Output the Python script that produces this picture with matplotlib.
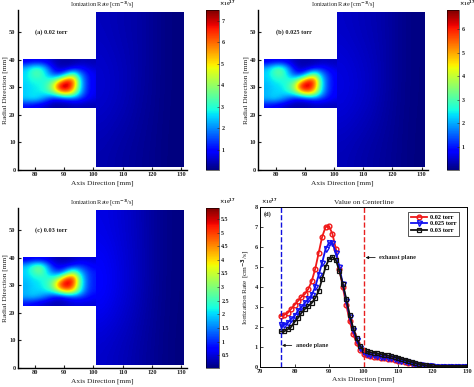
import numpy as np
import matplotlib
matplotlib.use("Agg")
import matplotlib.pyplot as plt

plt.rcParams['font.family'] = ['Liberation Serif', 'DejaVu Serif']
plt.rcParams['font.weight'] = 'bold'
plt.rcParams['mathtext.default'] = 'bf'

W, H = 474, 387
TEXT = '#222222'

# field values in 1e17 cm^-3/s, rows from y=40 down to y=22.3, columns x=76..101
channel_a = [
    [0.8, 0.9, 0.9, 0.8, 0.5, 0.3, 0.3, 0.3, 0.4, 0.4, 0.4],
    [2.4, 3.1, 3.2, 2.1, 0.9, 0.5, 0.5, 0.8, 1.0, 0.8, 0.6],
    [2.6, 3.3, 3.4, 2.6, 1.6, 1.3, 2.5, 3.8, 2.0, 1.2, 0.8],
    [2.6, 2.9, 2.9, 3.0, 3.4, 5.0, 6.8, 6.2, 2.7, 1.3, 0.8],
    [2.5, 2.7, 2.8, 3.2, 4.6, 7.4, 7.5, 6.0, 2.7, 1.3, 0.8],
    [2.5, 2.7, 2.7, 3.0, 3.6, 5.0, 5.8, 4.6, 2.4, 1.2, 0.8],
    [2.5, 2.7, 2.4, 1.7, 1.0, 1.0, 1.2, 1.5, 1.3, 0.9, 0.7],
    [1.0, 0.9, 0.7, 0.5, 0.3, 0.3, 0.3, 0.4, 0.4, 0.4, 0.4],
]
channel_b = [
    [0.7, 0.8, 0.8, 0.7, 0.4, 0.3, 0.3, 0.3, 0.4, 0.4, 0.4],
    [2.1, 2.9, 3.2, 2.0, 0.8, 0.4, 0.5, 0.8, 1.0, 0.8, 0.6],
    [2.3, 2.9, 3.2, 2.4, 1.4, 1.1, 2.3, 3.6, 2.0, 1.2, 0.8],
    [2.2, 2.5, 2.6, 2.7, 2.9, 4.4, 6.1, 5.8, 2.6, 1.3, 0.8],
    [2.1, 2.3, 2.4, 2.8, 3.8, 6.4, 6.7, 5.6, 2.6, 1.3, 0.8],
    [2.1, 2.3, 2.3, 2.5, 3.0, 4.3, 5.2, 4.4, 2.3, 1.2, 0.8],
    [2.1, 2.3, 2.0, 1.5, 0.9, 0.8, 1.0, 1.3, 1.2, 0.9, 0.7],
    [0.9, 0.8, 0.6, 0.4, 0.3, 0.3, 0.3, 0.4, 0.4, 0.4, 0.4],
]
channel_c = [
    [0.6, 0.7, 0.7, 0.6, 0.4, 0.3, 0.3, 0.4, 0.5, 0.5, 0.5],
    [1.9, 2.6, 3.0, 1.9, 0.8, 0.6, 0.7, 0.9, 1.1, 0.9, 0.7],
    [2.0, 2.5, 2.9, 2.2, 1.4, 1.1, 2.0, 3.2, 1.9, 1.2, 0.9],
    [1.9, 2.1, 2.2, 2.4, 2.5, 3.5, 5.2, 5.2, 2.6, 1.3, 0.9],
    [1.8, 2.0, 2.1, 2.4, 3.2, 5.2, 5.8, 5.0, 2.6, 1.3, 0.9],
    [1.8, 2.0, 2.0, 2.2, 2.6, 3.7, 4.6, 4.0, 2.3, 1.2, 0.9],
    [1.8, 1.9, 1.7, 1.3, 0.8, 0.6, 0.8, 1.1, 1.1, 0.9, 0.7],
    [0.8, 0.7, 0.5, 0.4, 0.3, 0.3, 0.4, 0.5, 0.5, 0.5, 0.5],
]
# plume rows y=57, 30, 1, columns x=101..131 every 5 mm
plume_a = [[0.45, 0.4, 0.35, 0.3, 0.2, 0.1, 0.06],
           [0.65, 0.55, 0.45, 0.3, 0.2, 0.1, 0.06],
           [0.35, 0.3, 0.25, 0.2, 0.15, 0.08, 0.05]]
plume_b = [[0.45, 0.4, 0.35, 0.3, 0.2, 0.1, 0.05],
           [0.7, 0.6, 0.5, 0.35, 0.2, 0.1, 0.05],
           [0.35, 0.3, 0.25, 0.2, 0.15, 0.08, 0.04]]
plume_c = [[0.55, 0.5, 0.42, 0.32, 0.2, 0.1, 0.05],
           [0.8, 0.65, 0.5, 0.35, 0.2, 0.1, 0.05],
           [0.4, 0.35, 0.3, 0.22, 0.15, 0.08, 0.04]]

# centerline values in 1e17, x = 76..130 mm
axis_mm = list(range(76, 131))
rate_002 = [2.55, 2.6, 2.7, 2.9, 3.1, 3.3, 3.5, 3.65, 3.9, 4.3, 4.9, 5.7, 6.5, 7.0, 7.05,
            6.65, 5.9, 4.9, 4.0, 3.1, 2.3, 1.65, 1.2, 0.85, 0.65, 0.58, 0.55, 0.52, 0.5, 0.47,
            0.44, 0.41, 0.38, 0.35, 0.32, 0.28, 0.25, 0.21, 0.18, 0.14, 0.11, 0.08, 0.06, 0.04, 0.03,
            0.02, 0.02, 0.01, 0.01, 0.01, 0.01, 0.01, 0.01, 0.01, 0.01]
rate_0025 = [2.1, 2.1, 2.2, 2.4, 2.55, 2.8, 3.0, 3.2, 3.4, 3.6, 4.0, 4.6, 5.2, 5.9, 6.2,
             6.2, 5.7, 5.0, 4.15, 3.3, 2.5, 1.85, 1.35, 0.95, 0.72, 0.65, 0.62, 0.58, 0.55, 0.52,
             0.49, 0.46, 0.43, 0.4, 0.36, 0.32, 0.28, 0.24, 0.2, 0.16, 0.12, 0.09, 0.07, 0.05, 0.03,
             0.02, 0.02, 0.01, 0.01, 0.01, 0.01, 0.01, 0.01, 0.01, 0.01]
rate_003 = [1.78, 1.78, 1.88, 2.0, 2.25, 2.45, 2.7, 2.9, 3.05, 3.2, 3.45, 3.8, 4.4, 5.0, 5.4,
            5.5, 5.35, 4.8, 4.15, 3.4, 2.6, 1.95, 1.45, 1.05, 0.85, 0.78, 0.74, 0.71, 0.68, 0.65,
            0.62, 0.58, 0.54, 0.5, 0.45, 0.4, 0.35, 0.3, 0.25, 0.2, 0.15, 0.11, 0.08, 0.05, 0.03,
            0.02, 0.02, 0.02, 0.01, 0.01, 0.01, 0.01, 0.01, 0.01, 0.01]

fig = plt.figure(figsize=(W / 100, H / 100), dpi=100)


def px_axes(left, top, right, bottom):
    return fig.add_axes([left / W, 1 - bottom / H, (right - left) / W, (bottom - top) / H])


def field_panel(left, top, bottom, channel, plume, vmin, vmax, ticks, ticklabels, tag):
    ax = px_axes(left, top, left + 169.5, bottom)
    im = ax.imshow(channel, extent=[76, 101, 22.3, 40], cmap='jet', vmin=vmin, vmax=vmax,
                   interpolation='bicubic', aspect='auto')
    ax.imshow(plume, extent=[101, 131, 1, 57], cmap='jet', vmin=vmin, vmax=vmax,
              interpolation='bicubic', aspect='auto')
    ax.set_xlim(74, 132)
    ax.set_ylim(0, 58)
    ax.set_xticks([80, 90, 100, 110, 120, 130])
    ax.set_yticks([0, 10, 20, 30, 40, 50])
    ax.spines['top'].set_visible(False)
    ax.spines['right'].set_visible(False)
    ax.spines['left'].set_linewidth(1.0)
    ax.spines['bottom'].set_linewidth(1.0)
    ax.tick_params(direction='in', length=2.5, width=0.8, labelsize=4.6, pad=1.5, colors=TEXT)
    ax.set_xlabel('Axis Direction [mm]', fontsize=5.3, labelpad=2.5, color=TEXT)
    ax.set_ylabel('Radial Direction [mm]', fontsize=5.3, labelpad=0.5, color=TEXT)
    ax.set_title('Ionization Rate [cm$^{-3}$/s]', fontsize=4.5, pad=1.5, color=TEXT)
    ax.text(80, 50, tag, fontsize=4.5, ha='left', va='center', color=TEXT)

    cax = px_axes(left + 188.5, top, left + 201, bottom)
    cb = fig.colorbar(im, cax=cax)
    cb.set_ticks(ticks, labels=ticklabels)
    cb.ax.tick_params(direction='in', length=1.5, width=0.4, labelsize=4.3, pad=2, colors=TEXT)
    cb.outline.set_linewidth(0.4)
    cax.text(1.0, 1.01, r'$\times$10$^{17}$', transform=cax.transAxes, fontsize=3.8,
             ha='left', va='bottom', color=TEXT)


field_panel(17.5, 10, 170, channel_a, plume_a, 0.05, 7.5, [1, 2, 3, 4, 5, 6, 7],
            ['1', '2', '3', '4', '5', '6', '7'], '(a) 0.02 torr')
field_panel(258, 10, 170, channel_b, plume_b, 0.03, 6.8, [1, 2, 3, 4, 5, 6],
            ['1', '2', '3', '4', '5', '6'], '(b) 0.025 torr')
field_panel(17.5, 208, 368, channel_c, plume_c, 0.03, 5.9,
            [0.5, 1, 1.5, 2, 2.5, 3, 3.5, 4, 4.5, 5, 5.5],
            ['0.5', '1', '1.5', '2', '2.5', '3', '3.5', '4', '4.5', '5', '5.5'], '(c) 0.03 torr')

ax = px_axes(260, 207, 467, 367)
ax.plot(axis_mm, rate_002, color='#f01818', lw=1.3, marker='o', ms=3.4, mfc='none', mew=1.0,
        label='0.02 torr')
ax.plot(axis_mm, rate_0025, color='#1010f0', lw=1.3, marker='v', ms=3.6, mfc='none', mew=1.0,
        label='0.025 torr')
ax.plot(axis_mm, rate_003, color='#111111', lw=1.3, marker='s', ms=2.4, mfc='none', mew=0.9,
        label='0.03 torr')
ax.axvline(76, color='#1010e0', ls='--', lw=1.0)
ax.axvline(100, color='#e82020', ls='--', lw=1.0)
ax.set_xlim(70, 130)
ax.set_ylim(0, 8)
ax.set_xticks(range(70, 131, 10))
ax.set_yticks(range(0, 9))
ax.tick_params(direction='in', length=2.5, width=0.6, labelsize=4.6, pad=1.5, colors=TEXT)
for s in ax.spines.values():
    s.set_linewidth(0.7)
ax.set_xlabel('Axis Direction [mm]', fontsize=5.3, labelpad=1.5, color=TEXT)
ax.set_ylabel('Ionization Rate [cm$^{-3}$/s]', fontsize=5.3, labelpad=2, color=TEXT)
ax.set_title('Value on Centerline', fontsize=5.4, pad=2.5, color=TEXT)
ax.text(70.3, 8.05, r'$\times$10$^{17}$', fontsize=3.8, ha='left', va='bottom', color=TEXT)
ax.text(71.2, 7.65, '(d)', fontsize=4.5, ha='left', va='center', color=TEXT)
ax.annotate('anode plane', xy=(76.4, 1.08), xytext=(80.4, 1.08), fontsize=4.5, va='center', color=TEXT,
            arrowprops=dict(arrowstyle='-|>', lw=0.6, color='#111111', mutation_scale=4,
                            shrinkA=1, shrinkB=0))
ax.annotate('exhaust plane', xy=(100.6, 5.47), xytext=(104.6, 5.47), fontsize=4.5, va='center', color=TEXT,
            arrowprops=dict(arrowstyle='-|>', lw=0.6, color='#111111', mutation_scale=4,
                            shrinkA=1, shrinkB=0))
ax.legend(loc='upper right', fontsize=4.5, fancybox=False, framealpha=1, edgecolor='#111111',
          borderpad=0.4, labelspacing=0.2, handlelength=2.6, handletextpad=0.5,
          bbox_to_anchor=(0.961, 0.969), borderaxespad=0).get_frame().set_linewidth(0.5)

fig.savefig('out.png', dpi=100)
